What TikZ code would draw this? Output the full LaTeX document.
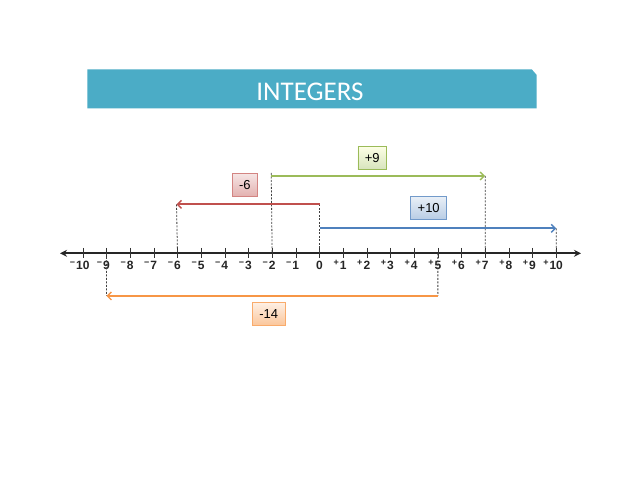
\documentclass[tikz,border=0pt]{standalone}
\usepackage{fontspec}
\setmainfont{Liberation Sans}
\newfontfamily\titlefont{Carlito}
\usetikzlibrary{arrows.meta}
\definecolor{banner}{HTML}{4BACC6}
\definecolor{cgreen}{HTML}{9BBB59}
\definecolor{cred}{HTML}{C0504D}
\definecolor{cblue}{HTML}{4F81BD}
\definecolor{corange}{HTML}{F79646}
\tikzset{
  axisline/.style={line width=1.6pt, black!85, {Stealth[length=7pt,width=7pt]}-{Stealth[length=7pt,width=7pt]}},
  tickmark/.style={line width=0.6pt, black!80},
  numlab/.style={anchor=base, inner sep=0pt, font=\fontsize{12}{12}\selectfont\bfseries, text=black!85},
  signlab/.style={anchor=base east, inner sep=0pt, outer sep=0.8pt, font=\fontsize{9}{9}\selectfont\bfseries, text=black!85},
  guide/.style={line width=0.8pt, black!75, dash pattern=on 2pt off 1.5pt},
  jump/.style={line width=1.6pt, -{Straight Barb[length=4pt,width=8pt,line width=1.4pt]}},
  lbox/.style={draw, line width=0.7pt, inner xsep=7pt, minimum height=23pt, font=\fontsize{13}{13}\selectfont}
}
\begin{document}
\begin{tikzpicture}[x=1pt,y=-1pt]
\useasboundingbox (0,0) rectangle (638,494);
\fill[white] (0,0) rectangle (638,494);
% banner
\fill[banner] (87.3,69.3) -- (531.7,69.3) -- (536.7,75) -- (536.7,108.3) -- (87.3,108.3) -- cycle;
\node[text=white, inner sep=0pt, font=\titlefont\fontsize{27}{27}\selectfont] (title) at (310,91.5) {INTEGERS};
% axis
\coordinate (axL) at (60,253.3);
\coordinate (axR) at (581,253.3);
\draw[axisline] (axL) -- (axR);
\foreach \i in {-10,...,10}{
  \pgfmathsetmacro{\xx}{319.5+23.67*\i}
  \coordinate (t\i) at (\xx,253.3);
  \draw[tickmark] (\xx,248) -- (\xx,258.5);
  \pgfmathtruncatemacro{\ab}{abs(\i)}
  \node[numlab] (n\i) at (\xx,269.5) {\ab};
  \ifnum\i<0 \node[signlab, yshift=3.5pt] (s\i) at (n\i.base west) {−};\fi
  \ifnum\i>0 \node[signlab, yshift=3.5pt] (s\i) at (n\i.base west) {+};\fi
}
% endpoints
\coordinate (g1) at (271.2,176);
\coordinate (g2) at (485.2,176);
\coordinate (r1) at (319.5,204.3);
\coordinate (r2) at (176.5,204.3);
\coordinate (b1) at (319.5,228.3);
\coordinate (b2) at (556.2,228.3);
\coordinate (o1) at (437.9,296);
\coordinate (o2) at (106.5,296);
% guides
\draw[guide] (271.2,173) -- (t-2);
\draw[guide] (r2) -- (t-6);
\draw[guide] (r1) -- (t0);
\draw[guide] (g2) -- (t7);
\draw[guide] (b2) -- (t10);
\draw[guide] (t-9) -- (o2);
\draw[guide] (t5) -- (o1);
% jumps
\draw[jump, cgreen] (g1) -- (g2);
\draw[jump, cred] (r1) -- (r2);
\draw[jump, cblue] (b1) -- (b2);
\draw[jump, corange] (o1) -- (o2);
% labels
\node[lbox, draw=cgreen, top color=green!8!yellow!10, bottom color=cgreen!40] (lg) at (372.3,157.7) {+9};
\node[lbox, draw=cred!70, top color=cred!15, bottom color=cred!45] (lr) at (244.8,185) {-6};
\node[lbox, draw=cblue!80, top color=cblue!12, bottom color=cblue!40] (lb) at (428.7,207.7) {+10};
\node[lbox, draw=corange!80, top color=corange!15, bottom color=corange!55] (lo) at (268.7,314.3) {-14};
\end{tikzpicture}
\end{document}
